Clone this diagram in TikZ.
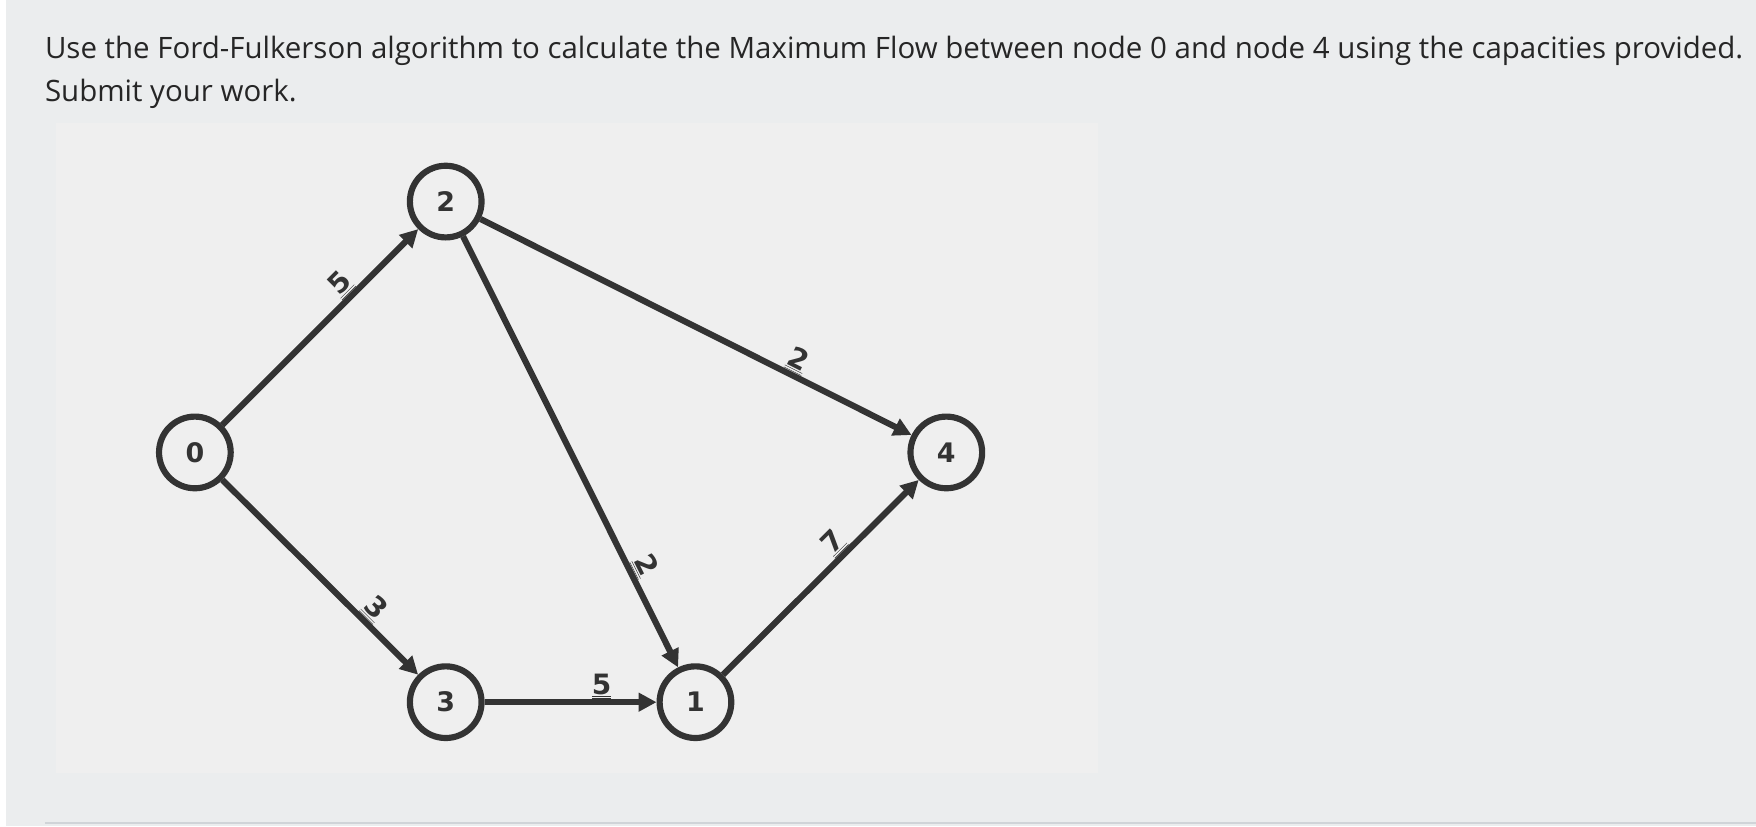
\documentclass[tikz,border=0pt]{standalone}
\usepackage{fontspec}
\setmainfont{Open Sans}
\newfontfamily\lblfont{DejaVu Sans}
\usetikzlibrary{arrows.meta}
\definecolor{bg}{HTML}{EBEDEE}
\definecolor{panel}{HTML}{EFEFEF}
\definecolor{ink}{HTML}{333333}
\tikzset{
  vtx/.style={circle,draw=ink,line width=5.5pt,fill=panel,minimum size=64pt,inner sep=0pt,font=\lblfont\bfseries\fontsize{24}{24}\selectfont,text=ink},
  edge/.style={draw=ink,line width=5.5pt,-{Triangle[length=16pt,width=16pt]}},
  caplbl/.style={sloped,above,inner sep=0pt,font=\lblfont\bfseries\fontsize{25}{25}\selectfont,text=ink}
}
\newcommand{\capv}[1]{\underline{\underline{#1}}}
\begin{document}
\begin{tikzpicture}[x=1pt,y=-1pt]
\useasboundingbox (0,0) rectangle (1568,738);
\fill[bg] (0,0) rectangle (1568,738);
\fill[white] (0,0) rectangle (5,738);
\fill[panel] (50,110) rectangle (980,690);
\draw[color={rgb,255:red,208;green,212;blue,216},line width=1.5pt] (40,735) -- (1568,735);
\node[anchor=base west,inner sep=0pt,font=\fontsize{26.3}{26.3}\selectfont,text=black!85] (t1) at (40,52) {Use the Ford-Fulkerson algorithm to calculate the Maximum Flow between node 0 and node 4 using the capacities provided.};
\node[anchor=base west,inner sep=0pt,font=\fontsize{26.3}{26.3}\selectfont,text=black!85] (t2) at (40,91) {Submit your work.};
\node[vtx] (n0) at (174,404) {0};
\node[vtx] (n2) at (398,180) {2};
\node[vtx] (n4) at (845,404) {4};
\node[vtx] (n3) at (398,627) {3};
\node[vtx] (n1) at (621,627) {1};
\draw[edge] (n0) -- node[caplbl,pos=0.66] {\capv{5}} (n2);
\draw[edge] (n2) -- node[caplbl,pos=0.72] {\capv{2}} (n4);
\draw[edge] (n2) -- node[caplbl,pos=0.78] {\capv{2}} (n1);
\draw[edge] (n0) -- node[caplbl,pos=0.72] {\capv{3}} (n3);
\draw[edge] (n3) -- node[caplbl,pos=0.68] {\capv{5}} (n1);
\draw[edge] (n1) -- node[caplbl,pos=0.62] {\capv{7}} (n4);
\end{tikzpicture}
\end{document}
